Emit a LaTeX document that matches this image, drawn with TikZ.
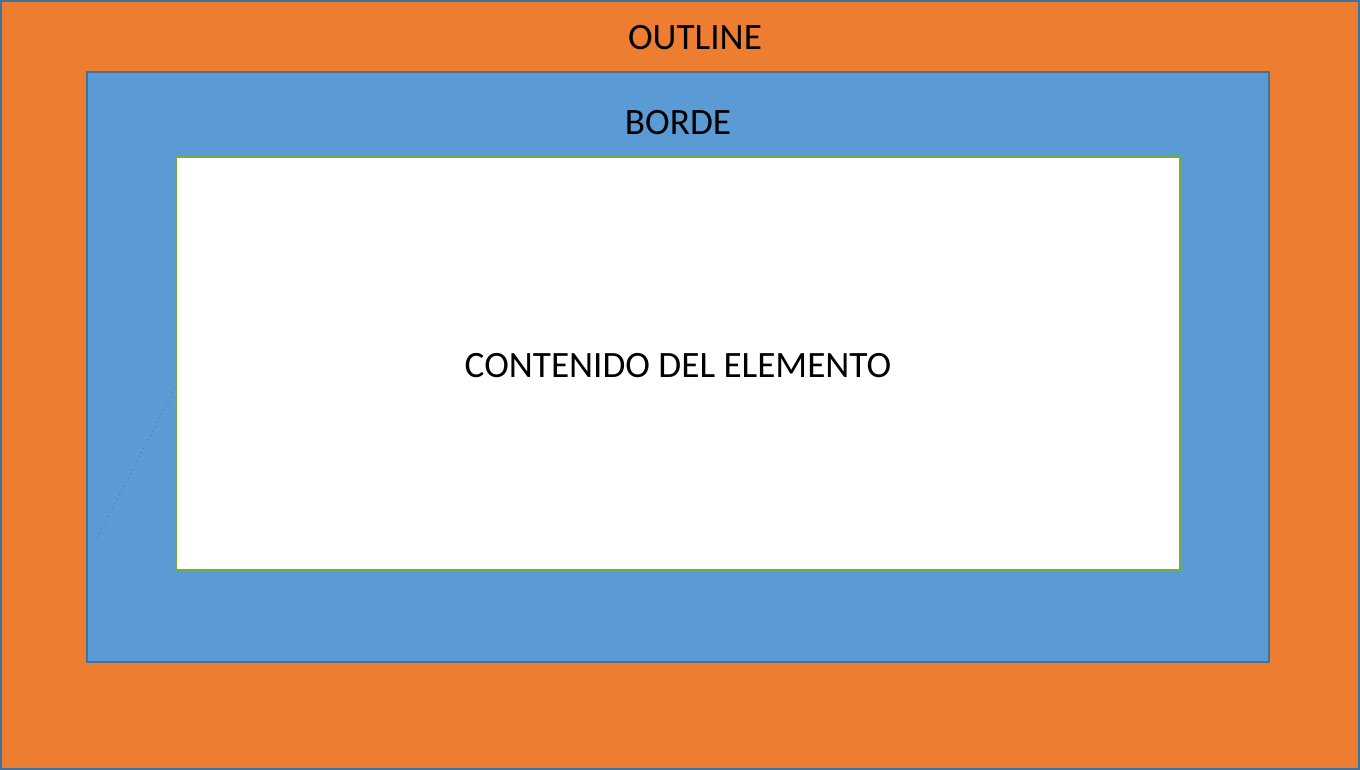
\documentclass[tikz,border=0pt]{standalone}
\usepackage{fontspec}
\setmainfont{Carlito}
\definecolor{outorange}{HTML}{ED7D31}
\definecolor{bordblue}{HTML}{5B9BD5}
\definecolor{edgeblue}{HTML}{41719C}
\definecolor{contgreen}{HTML}{70AD47}
\begin{document}
\begin{tikzpicture}[x=0.5pt,y=-0.5pt,
  lbl/.style={anchor=base,inner sep=0pt,font=\fontsize{18.6}{22}\selectfont,text=black}]
\useasboundingbox (0,0) rectangle (1360,770);
\draw[fill=outorange,draw=edgeblue,line width=1pt] (1,1) rectangle (1359,769);
\draw[fill=bordblue,draw=edgeblue,line width=1pt] (87,72) rectangle (1269,662);
\draw[fill=white,draw=contgreen,line width=1pt] (176,157) rectangle (1180,570);
\coordinate (d1) at (97,538);
\coordinate (d2) at (175,388);
\draw[edgeblue,dotted,line width=0.4pt] (d1) -- (d2);
\node[lbl] (outline) at (695,50) {OUTLINE};
\node[lbl] (borde) at (678,135) {BORDE};
\node[lbl] (cont) at (678,377) {CONTENIDO DEL ELEMENTO};
\end{tikzpicture}
\end{document}
